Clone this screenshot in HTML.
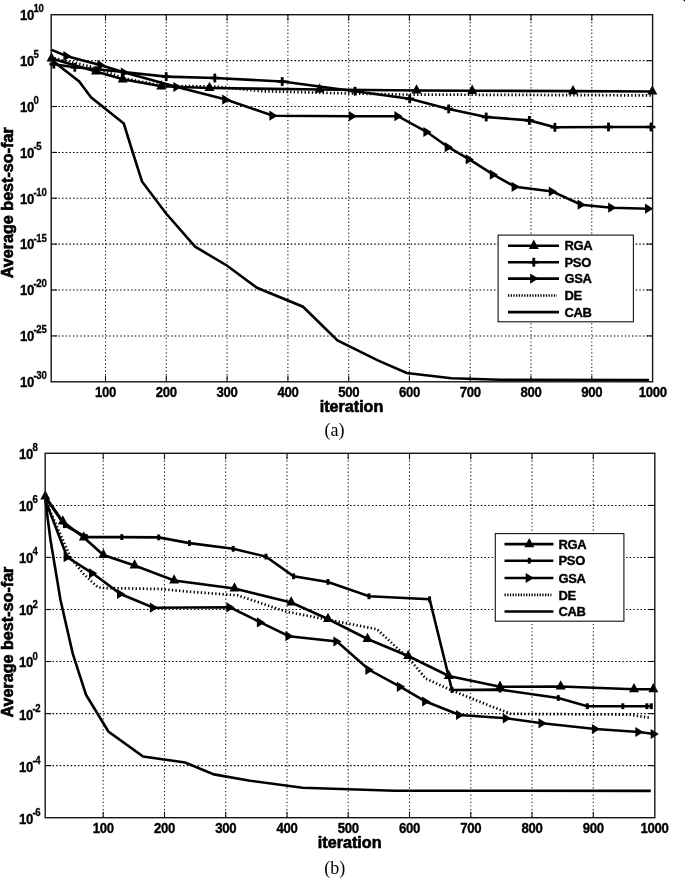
<!DOCTYPE html>
<html><head><meta charset="utf-8"><title>Convergence curves</title>
<style>
html,body{margin:0;padding:0;background:#fff;}
body{width:685px;height:880px;overflow:hidden;}
svg{display:block;}
text{font-family:"Liberation Sans",Arial,Helvetica,sans-serif;font-weight:bold;fill:#000;}
.tk{font-size:13.8px;stroke:#000;stroke-width:0.35px;letter-spacing:-0.35px;}
.sp{font-size:11.2px;stroke:#000;stroke-width:0.3px;letter-spacing:-0.3px;}
.lg{font-size:13px;stroke:#000;stroke-width:0.35px;letter-spacing:-0.3px;}
.ax{font-size:16.15px;stroke:#000;stroke-width:0.65px;}
.cap{font-family:"Liberation Serif","Times New Roman",serif;font-weight:normal;font-size:18px;}
</style></head><body>
<svg width="685" height="880" viewBox="0 0 685 880">
<rect width="685" height="880" fill="#fff"/>
<line x1="105.5" y1="14.7" x2="105.5" y2="381.8" stroke="#0a0a0a" stroke-width="1.05" stroke-dasharray="1.2 2.43"/>
<line x1="166.3" y1="14.7" x2="166.3" y2="381.8" stroke="#0a0a0a" stroke-width="1.05" stroke-dasharray="1.2 2.43"/>
<line x1="227.1" y1="14.7" x2="227.1" y2="381.8" stroke="#0a0a0a" stroke-width="1.05" stroke-dasharray="1.2 2.43"/>
<line x1="287.9" y1="14.7" x2="287.9" y2="381.8" stroke="#0a0a0a" stroke-width="1.05" stroke-dasharray="1.2 2.43"/>
<line x1="348.7" y1="14.7" x2="348.7" y2="381.8" stroke="#0a0a0a" stroke-width="1.05" stroke-dasharray="1.2 2.43"/>
<line x1="409.4" y1="14.7" x2="409.4" y2="381.8" stroke="#0a0a0a" stroke-width="1.05" stroke-dasharray="1.2 2.43"/>
<line x1="470.2" y1="14.7" x2="470.2" y2="381.8" stroke="#0a0a0a" stroke-width="1.05" stroke-dasharray="1.2 2.43"/>
<line x1="531.0" y1="14.7" x2="531.0" y2="381.8" stroke="#0a0a0a" stroke-width="1.05" stroke-dasharray="1.2 2.43"/>
<line x1="591.8" y1="14.7" x2="591.8" y2="381.8" stroke="#0a0a0a" stroke-width="1.05" stroke-dasharray="1.2 2.43"/>
<line x1="51.2" y1="60.6" x2="652.6" y2="60.6" stroke="#000" stroke-width="1.05" stroke-dasharray="1.5 2.13"/>
<line x1="51.2" y1="106.5" x2="652.6" y2="106.5" stroke="#000" stroke-width="1.05" stroke-dasharray="1.5 2.13"/>
<line x1="51.2" y1="152.4" x2="652.6" y2="152.4" stroke="#000" stroke-width="1.05" stroke-dasharray="1.5 2.13"/>
<line x1="51.2" y1="198.2" x2="652.6" y2="198.2" stroke="#000" stroke-width="1.05" stroke-dasharray="1.5 2.13"/>
<line x1="51.2" y1="244.1" x2="652.6" y2="244.1" stroke="#000" stroke-width="1.05" stroke-dasharray="1.5 2.13"/>
<line x1="51.2" y1="290.0" x2="652.6" y2="290.0" stroke="#000" stroke-width="1.05" stroke-dasharray="1.5 2.13"/>
<line x1="51.2" y1="335.9" x2="652.6" y2="335.9" stroke="#000" stroke-width="1.05" stroke-dasharray="1.5 2.13"/>
<polyline points="51.0,57.0 62.0,60.3 70.0,62.2 75.0,63.0 92.0,66.8 105.0,71.3 123.0,78.1 161.0,85.4 177.0,86.0 215.0,86.5 240.0,89.0 262.0,91.2 290.0,91.9 330.0,93.0 400.0,94.5 652.0,95.4" fill="none" stroke="#000" stroke-width="2.7" stroke-dasharray="1.35 2.28"/>
<polyline points="51.0,59.5 79.2,81.5 91.0,97.3 123.8,123.6 132.0,150.0 142.0,181.5 165.7,213.0 195.1,246.7 226.8,265.5 257.0,287.8 303.0,306.7 337.5,340.5 377.8,360.4 406.7,373.0 451.4,378.3 500.0,379.7 649.0,380.0" fill="none" stroke="#000" stroke-width="2.6" stroke-linejoin="miter" />
<polyline points="51.0,63.5 53.8,64.2 74.8,67.3 100.0,69.5 166.2,76.6 214.8,78.0 282.2,81.5 355.0,91.2 409.7,98.8 448.7,108.9 486.2,117.0 529.3,120.4 554.9,127.3 608.5,127.0 651.0,127.0" fill="none" stroke="#000" stroke-width="2.6" stroke-linejoin="miter" />
<rect x="52.4" y="59.8" width="2.8" height="8.8" fill="#000"/><rect x="49.4" y="62.9" width="8.8" height="2.6" fill="#000"/>
<rect x="73.4" y="62.9" width="2.8" height="8.8" fill="#000"/><rect x="70.4" y="66.0" width="8.8" height="2.6" fill="#000"/>
<rect x="164.8" y="72.2" width="2.8" height="8.8" fill="#000"/><rect x="161.8" y="75.3" width="8.8" height="2.6" fill="#000"/>
<rect x="213.4" y="73.6" width="2.8" height="8.8" fill="#000"/><rect x="210.4" y="76.7" width="8.8" height="2.6" fill="#000"/>
<rect x="280.8" y="77.1" width="2.8" height="8.8" fill="#000"/><rect x="277.8" y="80.2" width="8.8" height="2.6" fill="#000"/>
<rect x="353.6" y="86.8" width="2.8" height="8.8" fill="#000"/><rect x="350.6" y="89.9" width="8.8" height="2.6" fill="#000"/>
<rect x="408.3" y="94.4" width="2.8" height="8.8" fill="#000"/><rect x="405.3" y="97.5" width="8.8" height="2.6" fill="#000"/>
<rect x="447.3" y="104.5" width="2.8" height="8.8" fill="#000"/><rect x="444.3" y="107.6" width="8.8" height="2.6" fill="#000"/>
<rect x="484.8" y="112.6" width="2.8" height="8.8" fill="#000"/><rect x="481.8" y="115.7" width="8.8" height="2.6" fill="#000"/>
<rect x="527.9" y="116.0" width="2.8" height="8.8" fill="#000"/><rect x="524.9" y="119.1" width="8.8" height="2.6" fill="#000"/>
<rect x="553.5" y="122.9" width="2.8" height="8.8" fill="#000"/><rect x="550.5" y="126.0" width="8.8" height="2.6" fill="#000"/>
<rect x="607.1" y="122.6" width="2.8" height="8.8" fill="#000"/><rect x="604.1" y="125.7" width="8.8" height="2.6" fill="#000"/>
<rect x="649.6" y="122.6" width="2.8" height="8.8" fill="#000"/><rect x="646.6" y="125.7" width="8.8" height="2.6" fill="#000"/>
<polyline points="51.5,58.5 96.0,71.5 122.8,79.3 161.3,86.3 209.5,88.0 319.5,89.5 416.5,90.5 472.2,90.8 573.0,91.1 652.3,91.5" fill="none" stroke="#000" stroke-width="2.6" stroke-linejoin="miter" />
<polygon points="51.5,52.3 46.5,61.6 56.5,61.6" fill="#000"/>
<polygon points="96.0,65.3 91.0,74.6 101.0,74.6" fill="#000"/>
<polygon points="122.8,73.1 117.8,82.4 127.8,82.4" fill="#000"/>
<polygon points="161.3,80.1 156.3,89.4 166.3,89.4" fill="#000"/>
<polygon points="209.5,81.8 204.5,91.1 214.5,91.1" fill="#000"/>
<polygon points="319.5,83.3 314.5,92.6 324.5,92.6" fill="#000"/>
<polygon points="416.5,84.3 411.5,93.6 421.5,93.6" fill="#000"/>
<polygon points="472.2,84.6 467.2,93.9 477.2,93.9" fill="#000"/>
<polygon points="573.0,84.9 568.0,94.2 578.0,94.2" fill="#000"/>
<polygon points="652.3,85.3 647.3,94.6 657.3,94.6" fill="#000"/>
<polyline points="51.0,49.6 67.0,56.2 101.0,65.2 124.5,72.6 177.0,87.0 225.8,99.6 273.0,115.7 352.4,116.2 398.0,116.2 427.0,132.0 448.3,147.2 469.3,159.4 493.4,174.7 515.2,186.8 552.4,191.5 581.2,204.7 611.8,207.7 648.6,208.7" fill="none" stroke="#000" stroke-width="2.6" stroke-linejoin="miter" />
<polygon points="63.4,51.1 71.6,56.2 63.4,61.3" fill="#000"/>
<polygon points="97.4,60.1 105.6,65.2 97.4,70.3" fill="#000"/>
<polygon points="120.9,67.5 129.1,72.6 120.9,77.7" fill="#000"/>
<polygon points="173.4,81.9 181.6,87.0 173.4,92.1" fill="#000"/>
<polygon points="222.2,94.5 230.4,99.6 222.2,104.7" fill="#000"/>
<polygon points="269.4,110.6 277.6,115.7 269.4,120.8" fill="#000"/>
<polygon points="348.8,111.1 357.0,116.2 348.8,121.3" fill="#000"/>
<polygon points="394.4,111.1 402.6,116.2 394.4,121.3" fill="#000"/>
<polygon points="423.4,126.9 431.6,132.0 423.4,137.1" fill="#000"/>
<polygon points="444.7,142.1 452.9,147.2 444.7,152.3" fill="#000"/>
<polygon points="465.7,154.3 473.9,159.4 465.7,164.5" fill="#000"/>
<polygon points="489.8,169.6 498.0,174.7 489.8,179.8" fill="#000"/>
<polygon points="511.6,181.7 519.8,186.8 511.6,191.9" fill="#000"/>
<polygon points="548.8,186.4 557.0,191.5 548.8,196.6" fill="#000"/>
<polygon points="577.6,199.6 585.8,204.7 577.6,209.8" fill="#000"/>
<polygon points="608.2,202.6 616.4,207.7 608.2,212.8" fill="#000"/>
<polygon points="645.0,203.6 653.2,208.7 645.0,213.8" fill="#000"/>
<rect x="51.2" y="14.7" width="601.4" height="367.1" fill="none" stroke="#151515" stroke-width="1.4"/>
<line x1="105.5" y1="381.8" x2="105.5" y2="375.8" stroke="#111" stroke-width="1.1"/>
<line x1="105.5" y1="14.7" x2="105.5" y2="20.7" stroke="#111" stroke-width="1.1"/>
<line x1="166.3" y1="381.8" x2="166.3" y2="375.8" stroke="#111" stroke-width="1.1"/>
<line x1="166.3" y1="14.7" x2="166.3" y2="20.7" stroke="#111" stroke-width="1.1"/>
<line x1="227.1" y1="381.8" x2="227.1" y2="375.8" stroke="#111" stroke-width="1.1"/>
<line x1="227.1" y1="14.7" x2="227.1" y2="20.7" stroke="#111" stroke-width="1.1"/>
<line x1="287.9" y1="381.8" x2="287.9" y2="375.8" stroke="#111" stroke-width="1.1"/>
<line x1="287.9" y1="14.7" x2="287.9" y2="20.7" stroke="#111" stroke-width="1.1"/>
<line x1="348.7" y1="381.8" x2="348.7" y2="375.8" stroke="#111" stroke-width="1.1"/>
<line x1="348.7" y1="14.7" x2="348.7" y2="20.7" stroke="#111" stroke-width="1.1"/>
<line x1="409.4" y1="381.8" x2="409.4" y2="375.8" stroke="#111" stroke-width="1.1"/>
<line x1="409.4" y1="14.7" x2="409.4" y2="20.7" stroke="#111" stroke-width="1.1"/>
<line x1="470.2" y1="381.8" x2="470.2" y2="375.8" stroke="#111" stroke-width="1.1"/>
<line x1="470.2" y1="14.7" x2="470.2" y2="20.7" stroke="#111" stroke-width="1.1"/>
<line x1="531.0" y1="381.8" x2="531.0" y2="375.8" stroke="#111" stroke-width="1.1"/>
<line x1="531.0" y1="14.7" x2="531.0" y2="20.7" stroke="#111" stroke-width="1.1"/>
<line x1="591.8" y1="381.8" x2="591.8" y2="375.8" stroke="#111" stroke-width="1.1"/>
<line x1="591.8" y1="14.7" x2="591.8" y2="20.7" stroke="#111" stroke-width="1.1"/>
<line x1="51.2" y1="60.6" x2="57.2" y2="60.6" stroke="#111" stroke-width="1.1"/>
<line x1="652.6" y1="60.6" x2="646.6" y2="60.6" stroke="#111" stroke-width="1.1"/>
<line x1="51.2" y1="106.5" x2="57.2" y2="106.5" stroke="#111" stroke-width="1.1"/>
<line x1="652.6" y1="106.5" x2="646.6" y2="106.5" stroke="#111" stroke-width="1.1"/>
<line x1="51.2" y1="152.4" x2="57.2" y2="152.4" stroke="#111" stroke-width="1.1"/>
<line x1="652.6" y1="152.4" x2="646.6" y2="152.4" stroke="#111" stroke-width="1.1"/>
<line x1="51.2" y1="198.2" x2="57.2" y2="198.2" stroke="#111" stroke-width="1.1"/>
<line x1="652.6" y1="198.2" x2="646.6" y2="198.2" stroke="#111" stroke-width="1.1"/>
<line x1="51.2" y1="244.1" x2="57.2" y2="244.1" stroke="#111" stroke-width="1.1"/>
<line x1="652.6" y1="244.1" x2="646.6" y2="244.1" stroke="#111" stroke-width="1.1"/>
<line x1="51.2" y1="290.0" x2="57.2" y2="290.0" stroke="#111" stroke-width="1.1"/>
<line x1="652.6" y1="290.0" x2="646.6" y2="290.0" stroke="#111" stroke-width="1.1"/>
<line x1="51.2" y1="335.9" x2="57.2" y2="335.9" stroke="#111" stroke-width="1.1"/>
<line x1="652.6" y1="335.9" x2="646.6" y2="335.9" stroke="#111" stroke-width="1.1"/>
<rect x="498.1" y="235.1" width="135.3" height="86.7" fill="#fff" stroke="#111" stroke-width="1.1"/>
<line x1="508" y1="245.8" x2="559" y2="245.8" stroke="#000" stroke-width="2.6"/>
<polygon points="533.8,239.6 528.8,248.9 538.8,248.9" fill="#000"/>
<text x="564.4" y="250.4" class="lg">RGA</text>
<line x1="508" y1="262.2" x2="559" y2="262.2" stroke="#000" stroke-width="2.6"/>
<rect x="532.4" y="257.8" width="2.8" height="8.8" fill="#000"/><rect x="529.4" y="260.9" width="8.8" height="2.6" fill="#000"/>
<text x="564.4" y="266.8" class="lg">PSO</text>
<line x1="508" y1="278.6" x2="559" y2="278.6" stroke="#000" stroke-width="2.6"/>
<polygon points="530.2,273.5 538.4,278.6 530.2,283.7" fill="#000"/>
<text x="564.4" y="283.2" class="lg">GSA</text>
<line x1="508" y1="295.5" x2="557" y2="295.5" stroke="#000" stroke-width="2.6" stroke-dasharray="1.3 1.4"/>
<text x="564.4" y="300.1" class="lg">DE</text>
<line x1="508" y1="312.1" x2="559" y2="312.1" stroke="#000" stroke-width="2.6"/>
<text x="564.4" y="316.7" class="lg">CAB</text>
<text transform="translate(105.5,396.5) scale(0.955,1)" class="tk" text-anchor="middle">100</text>
<text transform="translate(166.3,396.5) scale(0.955,1)" class="tk" text-anchor="middle">200</text>
<text transform="translate(227.1,396.5) scale(0.955,1)" class="tk" text-anchor="middle">300</text>
<text transform="translate(287.9,396.5) scale(0.955,1)" class="tk" text-anchor="middle">400</text>
<text transform="translate(348.7,396.5) scale(0.955,1)" class="tk" text-anchor="middle">500</text>
<text transform="translate(409.4,396.5) scale(0.955,1)" class="tk" text-anchor="middle">600</text>
<text transform="translate(470.2,396.5) scale(0.955,1)" class="tk" text-anchor="middle">700</text>
<text transform="translate(531.0,396.5) scale(0.955,1)" class="tk" text-anchor="middle">800</text>
<text transform="translate(591.8,396.5) scale(0.955,1)" class="tk" text-anchor="middle">900</text>
<text transform="translate(652.8,396.5) scale(0.955,1)" class="tk" text-anchor="middle">1000</text>
<text transform="translate(34.0,20.0) scale(0.955,1)" class="tk" text-anchor="end">10</text>
<text transform="translate(33.4,12.1) scale(0.86,1)" class="sp">10</text>
<text transform="translate(34.0,65.9) scale(0.955,1)" class="tk" text-anchor="end">10</text>
<text transform="translate(33.4,58.0) scale(0.86,1)" class="sp">5</text>
<text transform="translate(34.0,111.8) scale(0.955,1)" class="tk" text-anchor="end">10</text>
<text transform="translate(33.4,103.9) scale(0.86,1)" class="sp">0</text>
<text transform="translate(34.0,157.7) scale(0.955,1)" class="tk" text-anchor="end">10</text>
<text transform="translate(33.4,149.8) scale(0.86,1)" class="sp">-5</text>
<text transform="translate(34.0,203.6) scale(0.955,1)" class="tk" text-anchor="end">10</text>
<text transform="translate(33.4,195.7) scale(0.86,1)" class="sp">-10</text>
<text transform="translate(34.0,249.4) scale(0.955,1)" class="tk" text-anchor="end">10</text>
<text transform="translate(33.4,241.5) scale(0.86,1)" class="sp">-15</text>
<text transform="translate(34.0,295.3) scale(0.955,1)" class="tk" text-anchor="end">10</text>
<text transform="translate(33.4,287.4) scale(0.86,1)" class="sp">-20</text>
<text transform="translate(34.0,341.2) scale(0.955,1)" class="tk" text-anchor="end">10</text>
<text transform="translate(33.4,333.3) scale(0.86,1)" class="sp">-25</text>
<text transform="translate(34.0,387.1) scale(0.955,1)" class="tk" text-anchor="end">10</text>
<text transform="translate(33.4,379.2) scale(0.86,1)" class="sp">-30</text>
<text x="351.5" y="412.0" class="ax" text-anchor="middle">iteration</text>
<text x="334.4" y="435.7" class="cap" text-anchor="middle">(a)</text>
<text transform="translate(12.6,202.8) rotate(-90)" class="ax" text-anchor="middle">Average best-so-far</text>
<line x1="103.2" y1="453.3" x2="103.2" y2="817.7" stroke="#0a0a0a" stroke-width="1.05" stroke-dasharray="1.2 2.43"/>
<line x1="164.5" y1="453.3" x2="164.5" y2="817.7" stroke="#0a0a0a" stroke-width="1.05" stroke-dasharray="1.2 2.43"/>
<line x1="225.7" y1="453.3" x2="225.7" y2="817.7" stroke="#0a0a0a" stroke-width="1.05" stroke-dasharray="1.2 2.43"/>
<line x1="287.0" y1="453.3" x2="287.0" y2="817.7" stroke="#0a0a0a" stroke-width="1.05" stroke-dasharray="1.2 2.43"/>
<line x1="348.2" y1="453.3" x2="348.2" y2="817.7" stroke="#0a0a0a" stroke-width="1.05" stroke-dasharray="1.2 2.43"/>
<line x1="409.5" y1="453.3" x2="409.5" y2="817.7" stroke="#0a0a0a" stroke-width="1.05" stroke-dasharray="1.2 2.43"/>
<line x1="470.8" y1="453.3" x2="470.8" y2="817.7" stroke="#0a0a0a" stroke-width="1.05" stroke-dasharray="1.2 2.43"/>
<line x1="532.0" y1="453.3" x2="532.0" y2="817.7" stroke="#0a0a0a" stroke-width="1.05" stroke-dasharray="1.2 2.43"/>
<line x1="593.3" y1="453.3" x2="593.3" y2="817.7" stroke="#0a0a0a" stroke-width="1.05" stroke-dasharray="1.2 2.43"/>
<line x1="45.2" y1="505.4" x2="654.8" y2="505.4" stroke="#000" stroke-width="1.05" stroke-dasharray="1.5 2.13"/>
<line x1="45.2" y1="557.4" x2="654.8" y2="557.4" stroke="#000" stroke-width="1.05" stroke-dasharray="1.5 2.13"/>
<line x1="45.2" y1="609.5" x2="654.8" y2="609.5" stroke="#000" stroke-width="1.05" stroke-dasharray="1.5 2.13"/>
<line x1="45.2" y1="661.5" x2="654.8" y2="661.5" stroke="#000" stroke-width="1.05" stroke-dasharray="1.5 2.13"/>
<line x1="45.2" y1="713.6" x2="654.8" y2="713.6" stroke="#000" stroke-width="1.05" stroke-dasharray="1.5 2.13"/>
<line x1="45.2" y1="765.6" x2="654.8" y2="765.6" stroke="#000" stroke-width="1.05" stroke-dasharray="1.5 2.13"/>
<polyline points="46.5,503.0 67.3,550.0 70.3,557.5 83.8,574.2 97.8,587.3 103.5,588.0 160.0,589.0 193.8,592.1 237.6,595.3 285.7,611.5 325.1,619.1 377.1,629.3 411.0,661.0 425.7,678.5 452.0,690.5 490.0,705.9 511.1,713.9 629.0,714.6 648.8,717.6" fill="none" stroke="#000" stroke-width="2.7" stroke-dasharray="1.35 2.28"/>
<polyline points="45.3,500.0 50.5,540.0 60.5,600.0 72.8,653.9 86.0,694.6 89.2,700.0 108.4,731.5 143.1,756.5 185.1,762.5 214.0,774.4 250.0,780.7 302.5,787.8 394.5,790.7 650.8,790.9" fill="none" stroke="#000" stroke-width="2.6" stroke-linejoin="miter" />
<polyline points="45.3,497.0 64.5,525.2 86.4,537.1 121.8,537.1 158.7,537.4 189.5,543.1 233.2,548.8 266.0,556.6 293.6,576.3 328.0,581.9 369.0,596.3 429.6,599.3 452.0,690.0 500.0,689.6 558.3,698.0 587.3,706.2 622.8,706.2 646.9,706.2 651.3,706.2" fill="none" stroke="#000" stroke-width="2.6" stroke-linejoin="miter" />
<rect x="63.0" y="522.3" width="3" height="5.8" fill="#000"/>
<rect x="84.9" y="534.2" width="3" height="5.8" fill="#000"/>
<rect x="120.3" y="534.2" width="3" height="5.8" fill="#000"/>
<rect x="157.2" y="534.5" width="3" height="5.8" fill="#000"/>
<rect x="188.0" y="540.2" width="3" height="5.8" fill="#000"/>
<rect x="231.7" y="545.9" width="3" height="5.8" fill="#000"/>
<rect x="264.5" y="553.7" width="3" height="5.8" fill="#000"/>
<rect x="292.1" y="573.4" width="3" height="5.8" fill="#000"/>
<rect x="326.5" y="579.0" width="3" height="5.8" fill="#000"/>
<rect x="367.5" y="593.4" width="3" height="5.8" fill="#000"/>
<rect x="428.1" y="596.4" width="3" height="5.8" fill="#000"/>
<rect x="450.5" y="687.1" width="3" height="5.8" fill="#000"/>
<rect x="498.5" y="686.7" width="3" height="5.8" fill="#000"/>
<rect x="556.8" y="695.1" width="3" height="5.8" fill="#000"/>
<rect x="585.8" y="703.3" width="3" height="5.8" fill="#000"/>
<rect x="621.3" y="703.3" width="3" height="5.8" fill="#000"/>
<rect x="645.4" y="703.3" width="3" height="5.8" fill="#000"/>
<rect x="649.8" y="703.3" width="3" height="5.8" fill="#000"/>
<polyline points="45.3,500.0 67.2,557.2 92.6,573.3 120.6,594.0 153.5,607.7 230.0,607.3 260.5,622.4 289.0,636.2 337.0,641.5 369.0,669.8 400.5,686.8 425.7,701.5 459.6,715.0 506.4,718.3 542.1,723.3 595.5,729.0 638.9,732.0 654.3,734.0" fill="none" stroke="#000" stroke-width="2.6" stroke-linejoin="miter" />
<polygon points="63.6,552.1 71.8,557.2 63.6,562.3" fill="#000"/>
<polygon points="89.0,568.2 97.2,573.3 89.0,578.4" fill="#000"/>
<polygon points="117.0,588.9 125.2,594.0 117.0,599.1" fill="#000"/>
<polygon points="149.9,602.6 158.1,607.7 149.9,612.8" fill="#000"/>
<polygon points="226.4,602.2 234.6,607.3 226.4,612.4" fill="#000"/>
<polygon points="256.9,617.3 265.1,622.4 256.9,627.5" fill="#000"/>
<polygon points="285.4,631.1 293.6,636.2 285.4,641.3" fill="#000"/>
<polygon points="333.4,636.4 341.6,641.5 333.4,646.6" fill="#000"/>
<polygon points="365.4,664.7 373.6,669.8 365.4,674.9" fill="#000"/>
<polygon points="396.9,681.7 405.1,686.8 396.9,691.9" fill="#000"/>
<polygon points="422.1,696.4 430.3,701.5 422.1,706.6" fill="#000"/>
<polygon points="456.0,709.9 464.2,715.0 456.0,720.1" fill="#000"/>
<polygon points="502.8,713.2 511.0,718.3 502.8,723.4" fill="#000"/>
<polygon points="538.5,718.2 546.7,723.3 538.5,728.4" fill="#000"/>
<polygon points="591.9,723.9 600.1,729.0 591.9,734.1" fill="#000"/>
<polygon points="635.3,726.9 643.5,732.0 635.3,737.1" fill="#000"/>
<polygon points="650.7,728.9 658.9,734.0 650.7,739.1" fill="#000"/>
<polyline points="45.3,496.5 62.8,521.5 83.8,537.5 103.4,555.0 134.6,565.5 174.1,580.5 234.5,588.5 291.2,602.5 328.0,619.0 367.5,639.0 408.2,656.0 448.8,676.0 500.0,686.8 560.7,686.5 634.0,689.2 653.3,689.2" fill="none" stroke="#000" stroke-width="2.6" stroke-linejoin="miter" />
<polygon points="45.3,490.3 40.3,499.6 50.3,499.6" fill="#000"/>
<polygon points="62.8,515.3 57.8,524.6 67.8,524.6" fill="#000"/>
<polygon points="83.8,531.3 78.8,540.6 88.8,540.6" fill="#000"/>
<polygon points="103.4,548.8 98.4,558.1 108.4,558.1" fill="#000"/>
<polygon points="134.6,559.3 129.6,568.6 139.6,568.6" fill="#000"/>
<polygon points="174.1,574.3 169.1,583.6 179.1,583.6" fill="#000"/>
<polygon points="234.5,582.3 229.5,591.6 239.5,591.6" fill="#000"/>
<polygon points="291.2,596.3 286.2,605.6 296.2,605.6" fill="#000"/>
<polygon points="328.0,612.8 323.0,622.1 333.0,622.1" fill="#000"/>
<polygon points="367.5,632.8 362.5,642.1 372.5,642.1" fill="#000"/>
<polygon points="408.2,649.8 403.2,659.1 413.2,659.1" fill="#000"/>
<polygon points="448.8,669.8 443.8,679.1 453.8,679.1" fill="#000"/>
<polygon points="500.0,680.6 495.0,689.9 505.0,689.9" fill="#000"/>
<polygon points="560.7,680.3 555.7,689.6 565.7,689.6" fill="#000"/>
<polygon points="634.0,683.0 629.0,692.3 639.0,692.3" fill="#000"/>
<polygon points="653.3,683.0 648.3,692.3 658.3,692.3" fill="#000"/>
<rect x="45.2" y="453.3" width="609.6" height="364.4" fill="none" stroke="#151515" stroke-width="1.4"/>
<line x1="103.2" y1="817.7" x2="103.2" y2="811.7" stroke="#111" stroke-width="1.1"/>
<line x1="103.2" y1="453.3" x2="103.2" y2="459.3" stroke="#111" stroke-width="1.1"/>
<line x1="164.5" y1="817.7" x2="164.5" y2="811.7" stroke="#111" stroke-width="1.1"/>
<line x1="164.5" y1="453.3" x2="164.5" y2="459.3" stroke="#111" stroke-width="1.1"/>
<line x1="225.7" y1="817.7" x2="225.7" y2="811.7" stroke="#111" stroke-width="1.1"/>
<line x1="225.7" y1="453.3" x2="225.7" y2="459.3" stroke="#111" stroke-width="1.1"/>
<line x1="287.0" y1="817.7" x2="287.0" y2="811.7" stroke="#111" stroke-width="1.1"/>
<line x1="287.0" y1="453.3" x2="287.0" y2="459.3" stroke="#111" stroke-width="1.1"/>
<line x1="348.2" y1="817.7" x2="348.2" y2="811.7" stroke="#111" stroke-width="1.1"/>
<line x1="348.2" y1="453.3" x2="348.2" y2="459.3" stroke="#111" stroke-width="1.1"/>
<line x1="409.5" y1="817.7" x2="409.5" y2="811.7" stroke="#111" stroke-width="1.1"/>
<line x1="409.5" y1="453.3" x2="409.5" y2="459.3" stroke="#111" stroke-width="1.1"/>
<line x1="470.8" y1="817.7" x2="470.8" y2="811.7" stroke="#111" stroke-width="1.1"/>
<line x1="470.8" y1="453.3" x2="470.8" y2="459.3" stroke="#111" stroke-width="1.1"/>
<line x1="532.0" y1="817.7" x2="532.0" y2="811.7" stroke="#111" stroke-width="1.1"/>
<line x1="532.0" y1="453.3" x2="532.0" y2="459.3" stroke="#111" stroke-width="1.1"/>
<line x1="593.3" y1="817.7" x2="593.3" y2="811.7" stroke="#111" stroke-width="1.1"/>
<line x1="593.3" y1="453.3" x2="593.3" y2="459.3" stroke="#111" stroke-width="1.1"/>
<line x1="45.2" y1="505.4" x2="51.2" y2="505.4" stroke="#111" stroke-width="1.1"/>
<line x1="654.8" y1="505.4" x2="648.8" y2="505.4" stroke="#111" stroke-width="1.1"/>
<line x1="45.2" y1="557.4" x2="51.2" y2="557.4" stroke="#111" stroke-width="1.1"/>
<line x1="654.8" y1="557.4" x2="648.8" y2="557.4" stroke="#111" stroke-width="1.1"/>
<line x1="45.2" y1="609.5" x2="51.2" y2="609.5" stroke="#111" stroke-width="1.1"/>
<line x1="654.8" y1="609.5" x2="648.8" y2="609.5" stroke="#111" stroke-width="1.1"/>
<line x1="45.2" y1="661.5" x2="51.2" y2="661.5" stroke="#111" stroke-width="1.1"/>
<line x1="654.8" y1="661.5" x2="648.8" y2="661.5" stroke="#111" stroke-width="1.1"/>
<line x1="45.2" y1="713.6" x2="51.2" y2="713.6" stroke="#111" stroke-width="1.1"/>
<line x1="654.8" y1="713.6" x2="648.8" y2="713.6" stroke="#111" stroke-width="1.1"/>
<line x1="45.2" y1="765.6" x2="51.2" y2="765.6" stroke="#111" stroke-width="1.1"/>
<line x1="654.8" y1="765.6" x2="648.8" y2="765.6" stroke="#111" stroke-width="1.1"/>
<rect x="495.3" y="533.6" width="128.6" height="87.6" fill="#fff" stroke="#111" stroke-width="1.1"/>
<line x1="504.5" y1="544.1" x2="553.4" y2="544.1" stroke="#000" stroke-width="2.6"/>
<polygon points="529.3,537.9 524.3,547.2 534.3,547.2" fill="#000"/>
<text x="558.4" y="548.7" class="lg">RGA</text>
<line x1="504.5" y1="560.7" x2="553.4" y2="560.7" stroke="#000" stroke-width="2.6"/>
<rect x="527.8" y="557.8" width="3" height="5.8" fill="#000"/>
<text x="558.4" y="565.3" class="lg">PSO</text>
<line x1="504.5" y1="578" x2="553.4" y2="578" stroke="#000" stroke-width="2.6"/>
<polygon points="525.7,572.9 533.9,578.0 525.7,583.1" fill="#000"/>
<text x="558.4" y="582.6" class="lg">GSA</text>
<line x1="504.5" y1="594.9" x2="551.4" y2="594.9" stroke="#000" stroke-width="2.6" stroke-dasharray="1.3 1.4"/>
<text x="558.4" y="599.5" class="lg">DE</text>
<line x1="504.5" y1="611.5" x2="553.4" y2="611.5" stroke="#000" stroke-width="2.6"/>
<text x="558.4" y="616.1" class="lg">CAB</text>
<text transform="translate(103.2,832.8) scale(0.955,1)" class="tk" text-anchor="middle">100</text>
<text transform="translate(164.5,832.8) scale(0.955,1)" class="tk" text-anchor="middle">200</text>
<text transform="translate(225.7,832.8) scale(0.955,1)" class="tk" text-anchor="middle">300</text>
<text transform="translate(287.0,832.8) scale(0.955,1)" class="tk" text-anchor="middle">400</text>
<text transform="translate(348.2,832.8) scale(0.955,1)" class="tk" text-anchor="middle">500</text>
<text transform="translate(409.5,832.8) scale(0.955,1)" class="tk" text-anchor="middle">600</text>
<text transform="translate(470.8,832.8) scale(0.955,1)" class="tk" text-anchor="middle">700</text>
<text transform="translate(532.0,832.8) scale(0.955,1)" class="tk" text-anchor="middle">800</text>
<text transform="translate(593.3,832.8) scale(0.955,1)" class="tk" text-anchor="middle">900</text>
<text transform="translate(654.6,832.8) scale(0.955,1)" class="tk" text-anchor="middle">1000</text>
<text transform="translate(33.0,459.2) scale(0.955,1)" class="tk" text-anchor="end">10</text>
<text transform="translate(32.4,451.3) scale(0.86,1)" class="sp">8</text>
<text transform="translate(33.0,511.3) scale(0.955,1)" class="tk" text-anchor="end">10</text>
<text transform="translate(32.4,503.4) scale(0.86,1)" class="sp">6</text>
<text transform="translate(33.0,563.3) scale(0.955,1)" class="tk" text-anchor="end">10</text>
<text transform="translate(32.4,555.4) scale(0.86,1)" class="sp">4</text>
<text transform="translate(33.0,615.4) scale(0.955,1)" class="tk" text-anchor="end">10</text>
<text transform="translate(32.4,607.5) scale(0.86,1)" class="sp">2</text>
<text transform="translate(33.0,667.4) scale(0.955,1)" class="tk" text-anchor="end">10</text>
<text transform="translate(32.4,659.5) scale(0.86,1)" class="sp">0</text>
<text transform="translate(33.0,719.5) scale(0.955,1)" class="tk" text-anchor="end">10</text>
<text transform="translate(32.4,711.6) scale(0.86,1)" class="sp">-2</text>
<text transform="translate(33.0,771.5) scale(0.955,1)" class="tk" text-anchor="end">10</text>
<text transform="translate(32.4,763.6) scale(0.86,1)" class="sp">-4</text>
<text transform="translate(33.0,823.6) scale(0.955,1)" class="tk" text-anchor="end">10</text>
<text transform="translate(32.4,815.7) scale(0.86,1)" class="sp">-6</text>
<text x="349.7" y="848.1" class="ax" text-anchor="middle">iteration</text>
<text x="334.7" y="874.2" class="cap" text-anchor="middle">(b)</text>
<text transform="translate(12.6,642.1) rotate(-90)" class="ax" text-anchor="middle">Average best-so-far</text>
<rect x="683.6" y="0" width="1.4" height="1.2" fill="#000"/>
</svg>
</body></html>
